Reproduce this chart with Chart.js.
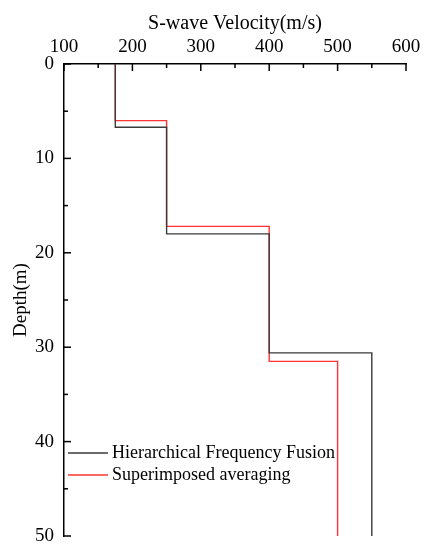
<!DOCTYPE html>
<html>
<head>
<meta charset="utf-8">
<script src="https://cdn.jsdelivr.net/npm/chart.js@4/dist/chart.umd.min.js"></script>
<style>
  html, body { margin: 0; padding: 0; background: #fff; }
  #wrap { width: 432px; height: 550px; }
</style>
</head>
<body>
<div id="wrap"><canvas id="profileChart"></canvas></div>
<script>
// layer velocities (m/s) and layer boundaries (depth, m)
const hffVelocity = [175, 250, 400, 550];
const hffDepths = [0, 6.7, 18, 30.6, 50];
const avgVelocity = [175, 250, 400, 500];
const avgDepths = [0, 6, 17.2, 31.5, 50];

const xTicks = [100, 200, 300, 400, 500, 600];
const yTicks = [0, 10, 20, 30, 40, 50];

// turn layers into a step profile
function stepProfile(vel, depths) {
    const pts = [];
    vel.forEach((v, i) => {
        pts.push({x: v, y: depths[i]});
        pts.push({x: v, y: depths[i + 1]});
    });
    return pts;
}

const serif = "'Liberation Serif', 'Times New Roman', serif";

// inward ticks, like the original plot
const inwardTicks = {
    id: 'inwardTicks',
    afterDraw: chart => {
        const ctx = chart.ctx;
        const area = chart.chartArea;
        const xs = chart.scales.x, ys = chart.scales.y;
        ctx.save();
        ctx.strokeStyle = '#000';
        ctx.lineWidth = 1.5;
        for (let v = 100; v <= 600; v += 50) {
            const px = xs.getPixelForValue(v);
            const len = v % 100 === 0 ? 7 : 4;
            ctx.beginPath();
            ctx.moveTo(px, area.top);
            ctx.lineTo(px, area.top + len);
            ctx.stroke();
        }
        for (let d = 0; d <= 50; d += 5) {
            const py = ys.getPixelForValue(d);
            const len = d % 10 === 0 ? 7 : 4;
            ctx.beginPath();
            ctx.moveTo(area.left, py);
            ctx.lineTo(area.left + len, py);
            ctx.stroke();
        }
        ctx.restore();
    }
};

// legend inside the plot, lower left
const innerLegend = {
    id: 'innerLegend',
    afterDraw: chart => {
        const ctx = chart.ctx;
        const area = chart.chartArea;
        ctx.save();
        ctx.font = '18px ' + serif;
        ctx.textBaseline = 'middle';
        chart.data.datasets.forEach((ds, i) => {
            const y = area.bottom - 83 + i * 22;
            ctx.strokeStyle = ds.borderColor;
            ctx.lineWidth = 1.4;
            ctx.beginPath();
            ctx.moveTo(area.left + 4, y);
            ctx.lineTo(area.left + 44, y);
            ctx.stroke();
            ctx.fillStyle = '#000';
            ctx.fillText(ds.label, area.left + 48, y);
        });
        ctx.restore();
    }
};

const dataProfile = {
    datasets: [{
        label: 'Hierarchical Frequency Fusion',
        data: stepProfile(hffVelocity, hffDepths),
        borderColor: '#3a3a3a',
        borderWidth: 1.4,
        showLine: true,
        pointRadius: 0,
        fill: false,
    }, {
        label: 'Superimposed averaging',
        data: stepProfile(avgVelocity, avgDepths),
        borderColor: '#ff3333',
        borderWidth: 1.4,
        showLine: true,
        pointRadius: 0,
        fill: false,
    }]
};

const configProfile = {
    type: 'scatter',
    data: dataProfile,
    plugins: [inwardTicks, innerLegend],
    options: {
        responsive: true,
        maintainAspectRatio: false,
        animation: false,
        layout: { padding: { top: 0, right: 26, bottom: 14, left: 0 } },
        plugins: { legend: { display: false }, tooltip: { enabled: false } },
        scales: {
            x: {
                type: 'linear',
                position: 'top',
                min: 100,
                max: 600,
                afterBuildTicks: s => { s.ticks = xTicks.map(v => ({value: v})); },
                afterFit: s => { s.height = 64; },
                grid: { display: false },
                border: { display: true, color: '#000', width: 1.5 },
                ticks: { color: '#000', font: { family: serif, size: 19 }, padding: -2, maxRotation: 0 },
                title: { display: true, text: 'S-wave Velocity(m/s)', color: '#000', font: { family: serif, size: 20 }, padding: { top: 12, bottom: 0 } }
            },
            y: {
                type: 'linear',
                reverse: true,
                min: 0,
                max: 50,
                afterBuildTicks: s => { s.ticks = yTicks.map(v => ({value: v})); },
                afterFit: s => { s.width = 64; },
                grid: { display: false },
                border: { display: true, color: '#000', width: 1.5 },
                ticks: { color: '#000', font: { family: serif, size: 19 }, padding: 2 },
                title: { display: true, text: 'Depth(m)', color: '#000', font: { family: serif, size: 19 }, padding: { top: 10, bottom: 0 } }
            }
        }
    }
};

new Chart(
    document.getElementById('profileChart'),
    configProfile
);
</script>
</body>
</html>
